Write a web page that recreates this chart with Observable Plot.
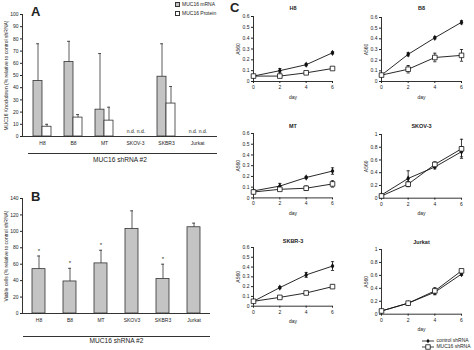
<!DOCTYPE html>
<html><head><meta charset="utf-8">
<script src="https://cdn.jsdelivr.net/npm/d3@7"></script>
<script src="https://cdn.jsdelivr.net/npm/@observablehq/plot@0.6"></script>
<style>
html,body{margin:0;padding:0;background:#fff;}
#root{position:relative;width:474px;height:350px;overflow:hidden;font-family:'Liberation Sans',Arial,sans-serif;color:#222;}
.abs{position:absolute;}
.plab{position:absolute;font-weight:bold;font-size:13px;line-height:1;}
.hline{position:absolute;border-top:1px solid #333;height:0;}
.leg{position:absolute;font-size:5px;line-height:1;white-space:nowrap;}
.sw{display:inline-block;width:3px;height:3px;border:1px solid #333;vertical-align:middle;margin-right:2px;}
</style></head>
<body><div id="root"></div>
<script>
// ---------- Panel A data ----------
const catsA = ["H8","B8","MT","SKOV-3","SKBR3","Jurkat"];
const mrnaA = [45.5, 61, 22, null, 49, null];
const mrnaErrA = [30.5, 17, 46, null, 27, null];
const protA = [8, 15.5, 13, null, 27, null];
const protErrA = [2, 2.5, 11, null, 14, null];
const ticksA = [0,10,20,30,40,50,60,70,80,90,100];
// ---------- Panel B data ----------
const catsB = ["H8","B8","MT","SKOV3","SKBR3","Jurkat"];
const viableB = [54, 39, 61, 103, 42, 105];
const viableErrB = [16, 16, 16, 22, 18, 5];
const sigB = [true, true, true, false, true, false];
const ticksB = [0,20,40,60,80,100,120,140];
// ---------- Panel C data ----------
const days = [0, 2, 4, 6];
const h8Ctrl = [0.05, 0.10, 0.155, 0.265], h8CtrlErr = [0.005, 0.02, 0.01, 0.01];
const h8Muc = [0.05, 0.05, 0.08, 0.12], h8MucErr = [0.005, 0.005, 0.01, 0.01];
const b8Ctrl = [0.06, 0.255, 0.41, 0.555], b8CtrlErr = [0.005, 0.015, 0.01, 0.015];
const b8Muc = [0.06, 0.115, 0.225, 0.245], b8MucErr = [0.005, 0.035, 0.04, 0.055];
const mtCtrl = [0.065, 0.11, 0.19, 0.25], mtCtrlErr = [0.005, 0.025, 0.01, 0.03];
const mtMuc = [0.055, 0.08, 0.09, 0.13], mtMucErr = [0.01, 0.01, 0.02, 0.03];
const skovCtrl = [0.05, 0.31, 0.49, 0.73], skovCtrlErr = [0.01, 0.12, 0.03, 0.08];
const skovMuc = [0.035, 0.22, 0.53, 0.775], skovMucErr = [0.01, 0.04, 0.04, 0.15];
const skbrCtrl = [0.05, 0.19, 0.32, 0.41], skbrCtrlErr = [0.005, 0.01, 0.025, 0.045];
const skbrMuc = [0.05, 0.09, 0.135, 0.20], skbrMucErr = [0.005, 0.01, 0.01, 0.015];
const jurCtrl = [0.05, 0.17, 0.34, 0.62], jurCtrlErr = [0.005, 0.01, 0.04, 0.02];
const jurMuc = [0.05, 0.17, 0.36, 0.67], jurMucErr = [0.005, 0.01, 0.05, 0.02];
const ticks06 = [0, 0.1, 0.2, 0.3, 0.4, 0.5, 0.6];
const ticks1 = [0, 0.2, 0.4, 0.6, 0.8, 1];
const dayTicks = [0, 2, 4, 6];

const FONT = "'Liberation Sans', Arial, sans-serif";
const root = document.getElementById("root");
function place(el, left, top){ el.style.position="absolute"; el.style.left=left+"px"; el.style.top=top+"px"; root.appendChild(el); }
function html(s, left, top, cls){ const d=document.createElement("div"); d.className=cls||"abs"; d.innerHTML=s; place(d,left,top); return d; }
const fmt = d => String(d);

// ---------- Panel A ----------
{
  const rowsA = catsA.map((c,i)=>({c, m:mrnaA[i], me:mrnaErrA[i], p:protA[i], pe:protErrA[i]}));
  const has = rowsA.filter(d=>d.m!=null);
  const nd = rowsA.filter(d=>d.m==null);
  const bw = 18, half = bw/2;
  const svg = Plot.plot({
    width: 230, height: 165, marginLeft: 22, marginRight: 13, marginTop: 14, marginBottom: 29,
    style: {fontFamily: FONT, fontSize: "5px", color: "#222", background: "transparent", overflow: "visible"},
    x: {type: "band", domain: catsA, paddingInner: 0.43, paddingOuter: 0.32},
    y: {domain: [0, 100]},
    marks: [
      Plot.barY(has, {x:"c", y:"m", insetRight: half, fill:"#c4c4c4", stroke:"#333", strokeWidth:0.8}),
      Plot.barY(has, {x:"c", y:"p", insetLeft: half, fill:"#fff", stroke:"#333", strokeWidth:0.8}),
      Plot.ruleX(has, {x:"c", y1:"m", y2:d=>d.m+d.me, dx:-half/2, stroke:"#333", strokeWidth:0.8}),
      Plot.tickY(has, {x:"c", y:d=>d.m+d.me, insetLeft: half/2-1.5, insetRight: bw-half/2-1.5, stroke:"#333", strokeWidth:0.8}),
      Plot.ruleX(has, {x:"c", y1:"p", y2:d=>d.p+d.pe, dx:half/2, stroke:"#333", strokeWidth:0.8}),
      Plot.tickY(has, {x:"c", y:d=>d.p+d.pe, insetLeft: bw-half/2-1.5, insetRight: half/2-1.5, stroke:"#333", strokeWidth:0.8}),
      Plot.text(nd, {x:"c", y:0, text:()=>"n.d.", dx:-half/2, dy:-5, fontSize:5}),
      Plot.text(nd, {x:"c", y:0, text:()=>"n.d.", dx:half/2+1, dy:-5, fontSize:5}),
      Plot.frame({anchor:"left", stroke:"#333"}),
      Plot.ruleY([0], {stroke:"#333"}),
      Plot.axisY({ticks: ticksA, tickFormat: fmt, tickSize: 2, tickPadding: 2, fontSize: 5,
        label: "MUC16 Knockdown (% relative to control shRNA)", labelAnchor: "center", labelOffset: 18, labelArrow: "none"}),
      Plot.axisX({tickSize: 0, tickPadding: 5, fontSize: 5,
        label: "MUC16 shRNA #2", labelAnchor: "center", labelOffset: 25, labelArrow: "none"})
    ]
  });
  svg.querySelectorAll('[aria-label="x-axis label"] text, [aria-label="x-axis label"]').forEach(e=>e.setAttribute("font-size","6.6"));
  place(svg, 0, 0);
  html("A", 31, 5, "plab");
  const hl = document.createElement("div"); hl.className="hline"; hl.style.width="189px"; place(hl, 28, 153);
  html('<span class="sw" style="background:#c4c4c4"></span>MUC16 mRNA', 175, 2, "leg");
  html('<span class="sw" style="background:#fff"></span>MUC16 Protein', 175, 11, "leg");
}

// ---------- Panel B ----------
{
  const rowsB = catsB.map((c,i)=>({c, v:viableB[i], e:viableErrB[i], s:sigB[i]}));
  const bw = 12.95;
  const svg = Plot.plot({
    width: 230, height: 170, marginLeft: 22, marginRight: 20, marginTop: 18, marginBottom: 37,
    style: {fontFamily: FONT, fontSize: "5px", color: "#222", background: "transparent", overflow: "visible"},
    x: {type: "band", domain: catsB, paddingInner: 0.59, paddingOuter: 0.27},
    y: {domain: [0, 140]},
    marks: [
      Plot.barY(rowsB, {x:"c", y:"v", fill:"#c4c4c4", stroke:"#333", strokeWidth:0.8}),
      Plot.ruleX(rowsB, {x:"c", y1:"v", y2:d=>d.v+d.e, stroke:"#333", strokeWidth:0.8}),
      Plot.tickY(rowsB, {x:"c", y:d=>d.v+d.e, inset: bw/2-1.5, stroke:"#333", strokeWidth:0.8}),
      Plot.text(rowsB.filter(d=>d.s), {x:"c", y:d=>d.v+d.e, text:()=>"*", dy:-5, fontSize:6}),
      Plot.frame({anchor:"left", stroke:"#333"}),
      Plot.ruleY([0], {stroke:"#333"}),
      Plot.axisY({ticks: ticksB, tickFormat: fmt, tickSize: 2, tickPadding: 2, fontSize: 5,
        label: "Viable cells (% relative to control shRNA)", labelAnchor: "center", labelOffset: 18, labelArrow: "none"}),
      Plot.axisX({tickSize: 0, tickPadding: 5, fontSize: 5,
        label: "MUC16 shRNA #2", labelAnchor: "center", labelOffset: 29, labelArrow: "none"})
    ]
  });
  svg.querySelectorAll('[aria-label="x-axis label"] text, [aria-label="x-axis label"]').forEach(e=>e.setAttribute("font-size","6.6"));
  place(svg, 0, 180);
  html("B", 31, 190, "plab");
  const hl = document.createElement("div"); hl.className="hline"; hl.style.width="187px"; place(hl, 23, 336);
}

// ---------- Panel C ----------
const capSymbol = {draw(ctx, size){ const w = Math.sqrt(size/Math.PI); ctx.moveTo(-w,0); ctx.lineTo(w,0); }};
function linePanel(title, ctrl, ctrlErr, muc, mucErr, yMax, yTicks, L){
  const mL=27, mR=8, mT=14, mB=24;
  const left = L.x0 - mL, top = L.yTop - mT;
  const width = (L.x6 - L.x0) + mL + mR, height = (L.y0 - L.yTop) + mT + mB;
  const rc = days.map((d,i)=>({day:d, v:ctrl[i], e:ctrlErr[i]}));
  const rm = days.map((d,i)=>({day:d, v:muc[i], e:mucErr[i]}));
  const all = rc.concat(rm);
  const svg = Plot.plot({
    width, height, marginLeft: mL, marginRight: mR, marginTop: mT, marginBottom: mB,
    style: {fontFamily: FONT, fontSize: "5px", color: "#222", background: "transparent", overflow: "visible"},
    x: {domain: [0, 6]},
    y: {domain: [0, yMax]},
    marks: [
      Plot.ruleX([0], {stroke:"#333"}),
      Plot.ruleY([0], {stroke:"#333"}),
      Plot.axisX({ticks: dayTicks, tickFormat: fmt, tickSize: 2, tickPadding: 2, fontSize: 5,
        label: "day", labelAnchor: "center", labelOffset: 17, labelArrow: "none"}),
      Plot.axisY({ticks: yTicks, tickFormat: fmt, tickSize: 2, tickPadding: 2, fontSize: 5,
        label: "A560", labelAnchor: "center", labelOffset: 17, labelArrow: "none"}),
      Plot.lineY(rc, {x:"day", y:"v", stroke:"#111", strokeWidth:0.9}),
      Plot.lineY(rm, {x:"day", y:"v", stroke:"#111", strokeWidth:0.9}),
      Plot.ruleX(all, {x:"day", y1:d=>d.v-d.e, y2:d=>d.v+d.e, stroke:"#111", strokeWidth:0.8}),
      Plot.dot(all, {x:"day", y:d=>d.v+d.e, symbol: capSymbol, r: 1.6, stroke:"#111", strokeWidth:0.8}),
      Plot.dot(all, {x:"day", y:d=>d.v-d.e, symbol: capSymbol, r: 1.6, stroke:"#111", strokeWidth:0.8}),
      Plot.dot(rc, {x:"day", y:"v", symbol:"diamond", r:1.9, fill:"#111"}),
      Plot.dot(rm, {x:"day", y:"v", symbol:"square", r:2.6, fill:"#fff", stroke:"#111", strokeWidth:0.8}),
      Plot.text([title], {frameAnchor:"top", dy: L.titleY - L.yTop, fontWeight:"bold", fontSize:5.5})
    ]
  });
  place(svg, left, top);
}
linePanel("H8", h8Ctrl, h8CtrlErr, h8Muc, h8MucErr, 0.6, ticks06, {x0:252.7, x6:331.7, yTop:15.7, y0:80.7, titleY:5});
linePanel("B8", b8Ctrl, b8CtrlErr, b8Muc, b8MucErr, 0.6, ticks06, {x0:381, x6:461, yTop:16.7, y0:80.7, titleY:5});
linePanel("MT", mtCtrl, mtCtrlErr, mtMuc, mtMucErr, 0.6, ticks06, {x0:252.7, x6:331.7, yTop:133.3, y0:197.7, titleY:124});
linePanel("SKOV-3", skovCtrl, skovCtrlErr, skovMuc, skovMucErr, 1, ticks1, {x0:381, x6:461, yTop:134, y0:197.7, titleY:124});
linePanel("SKBR-3", skbrCtrl, skbrCtrlErr, skbrMuc, skbrMucErr, 0.6, ticks06, {x0:252.7, x6:331.7, yTop:247.3, y0:306, titleY:239});
linePanel("Jurkat", jurCtrl, jurCtrlErr, jurMuc, jurMucErr, 1, ticks1, {x0:381, x6:461, yTop:249.3, y0:314, titleY:240});
html("C", 230, 1, "plab");
html('<svg width="14" height="6" style="vertical-align:middle"><line x1="1" y1="3" x2="13" y2="3" stroke="#111" stroke-width="0.8"/><path d="M7,0.8L8.6,3L7,5.2L5.4,3Z" fill="#111"/></svg> control shRNA', 421, 338, "leg");
html('<svg width="14" height="6" style="vertical-align:middle"><line x1="1" y1="3" x2="13" y2="3" stroke="#111" stroke-width="0.8"/><rect x="4.8" y="0.8" width="4.4" height="4.4" fill="#fff" stroke="#111" stroke-width="0.8"/></svg> MUC16 shRNA', 421, 344, "leg");
</script></body></html>
